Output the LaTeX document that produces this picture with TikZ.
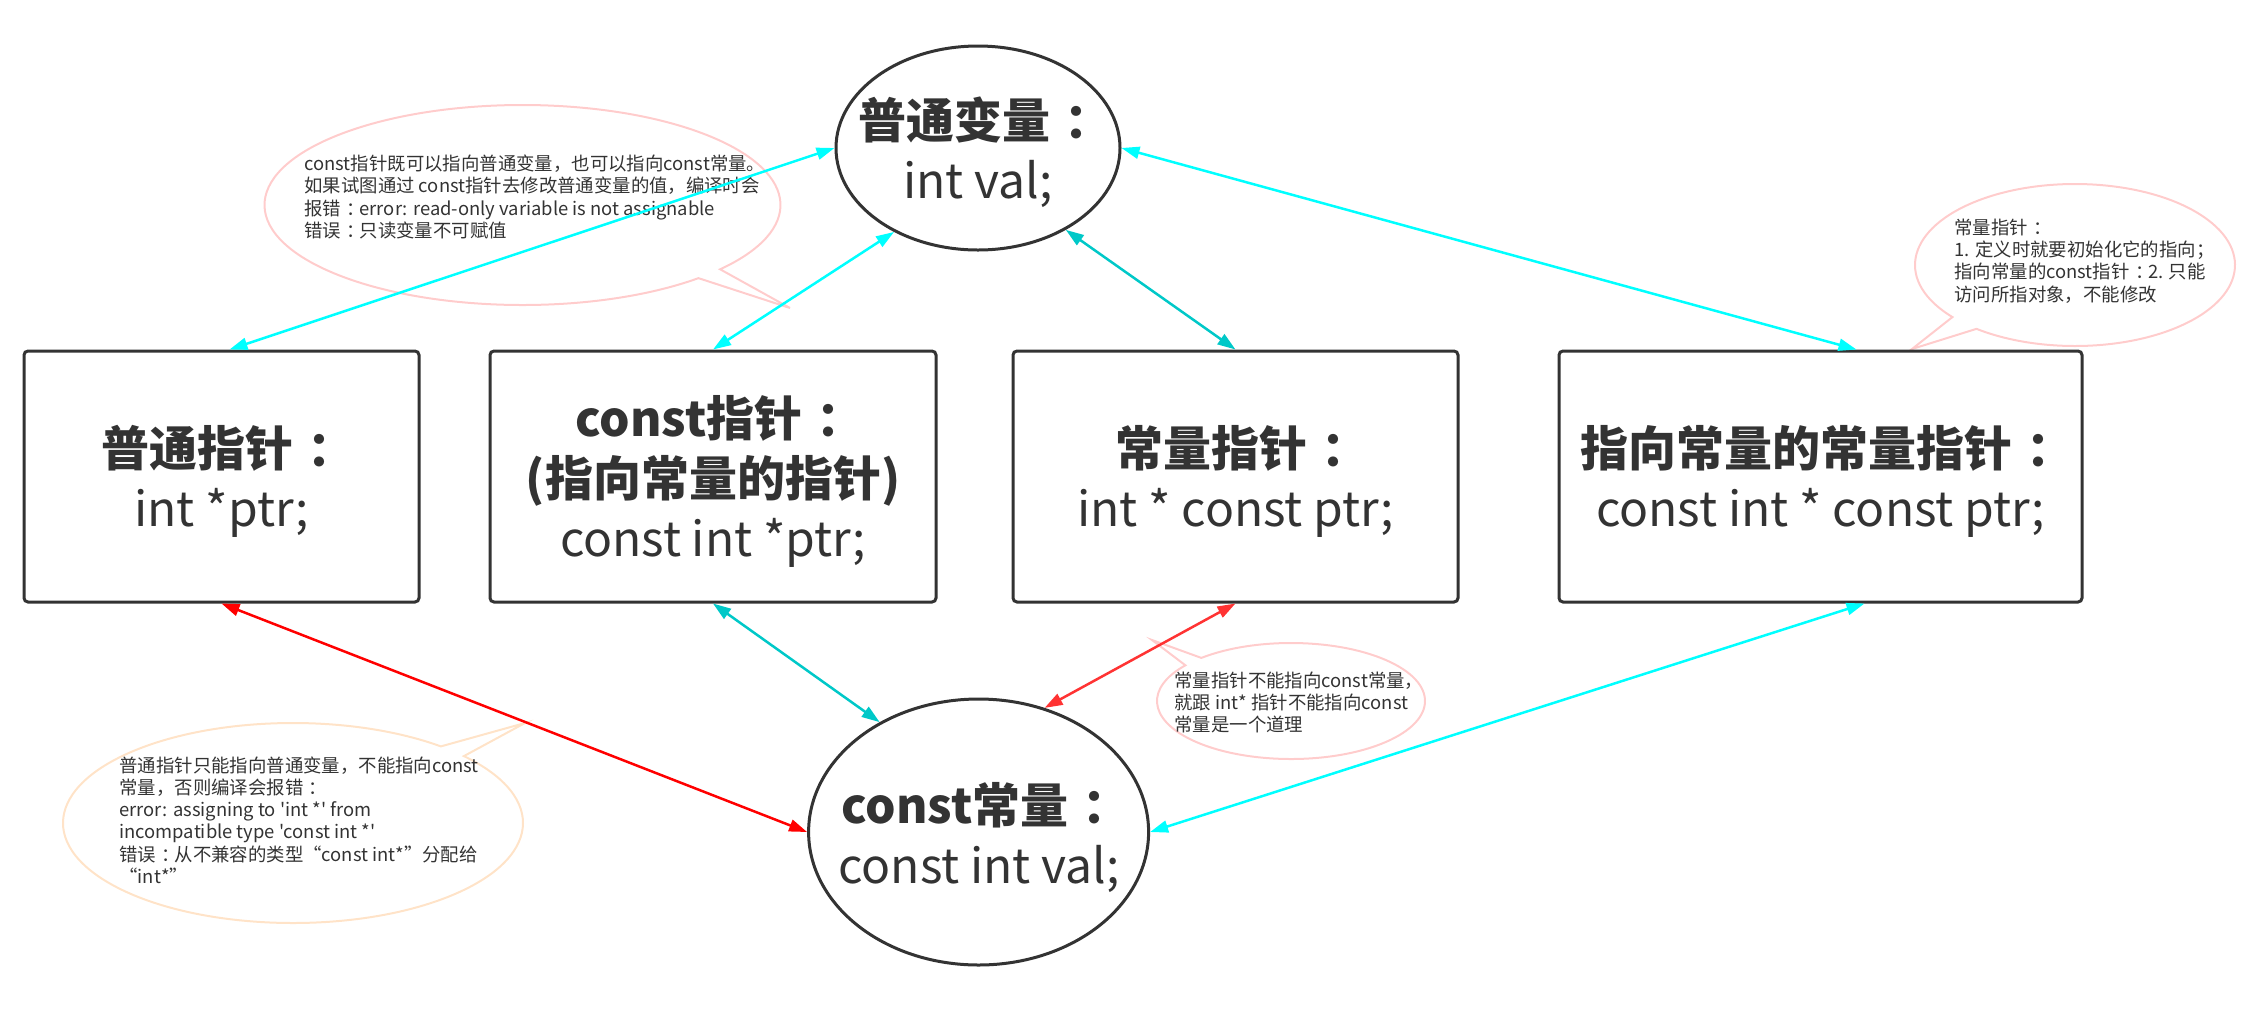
\documentclass[tikz,border=0pt]{standalone}
\usepackage{fontspec}
\newfontfamily\cjkfont{Noto Sans CJK SC}
\newcommand\zhcolon{\kern.3em：\kern-.3em}
\usetikzlibrary{shapes.geometric,arrows.meta}
\definecolor{txt}{HTML}{333333}
\definecolor{cyanA}{HTML}{00FFFF}
\definecolor{tealA}{HTML}{00C8C8}
\definecolor{redA}{HTML}{FF0000}
\definecolor{redB}{HTML}{FF3333}
\definecolor{pinkA}{HTML}{FFCCCC}
\definecolor{peachA}{HTML}{FFE3C8}
\begin{document}
\begin{tikzpicture}[x=0.5pt,y=-0.5pt,
  big/.style={font=\cjkfont\fontsize{24}{30}\selectfont, text=txt, align=center, inner sep=0pt},
  boxnode/.style={draw=txt, line width=1.5pt, rounded corners=2pt, minimum height=125.5pt, inner sep=0pt, fill=white},
  ellnode/.style={draw=txt, line width=1.5pt, ellipse, inner sep=0pt, fill=white},
  note/.style={font=\cjkfont\fontsize{9.2}{11.1}\selectfont, text=txt, align=left, anchor=west, inner sep=0pt},
  bubble/.style={line width=1pt, draw=pinkA},
  link/.style={line width=1.25pt, <->, >={Triangle[length=9pt,width=6pt]}}]
\useasboundingbox (0,0) rectangle (2250,1008);

% speech bubbles
\draw[bubble] (522.5,205) ++(47:258 and 100) arc[start angle=47, end angle=400, x radius=258, y radius=100] -- (790,308) -- cycle;
\draw[bubble] (2075,265) ++(140:160 and 81) arc[start angle=140, end angle=488, x radius=160, y radius=81] -- (1912,349) -- cycle;
\draw[bubble, draw=peachA] (293,823) ++(-42:230 and 100) arc[start angle=-42, end angle=310, x radius=230, y radius=100] -- (525,723) -- cycle;
\draw[bubble] (1291,701) ++(228:134 and 58) arc[start angle=228, end angle=578, x radius=134, y radius=58] -- (1152,640) -- cycle;

\node[note] (n1) at (304,197) {const指针既可以指向普通变量，也可以指向const常量。\\如果试图通过 const指针去修改普通变量的值，编译时会\\报错\zhcolon error: read-only variable is not assignable\\错误\zhcolon 只读变量不可赋值};
\node[note] (n2) at (1954,261) {常量指针\zhcolon\\1. 定义时就要初始化它的指向；\\指向常量的const指针\zhcolon 2. 只能\\访问所指对象，不能修改};
\node[note] (n3) at (119,820) {普通指针只能指向普通变量，不能指向const\\常量，否则编译会报错\zhcolon\\error: assigning to 'int *' from\\incompatible type 'const int *'\\错误\zhcolon 从不兼容的类型“const int*”分配给\\“int*”};
\node[note] (n4) at (1174,702.5) {常量指针不能指向const常量，\\就跟 int* 指针不能指向const\\常量是一个道理};

% main nodes
\node[ellnode, minimum width=142pt, minimum height=102pt] (top) at (978,148) {};
\node[big] (toptext) at (978,152) {{\bfseries 普通变量\zhcolon}\\int val;};
\node[ellnode, minimum width=170pt, minimum height=133pt] (bot) at (978.6,832) {};
\node[big] (bottext) at (979,838) {{\bfseries const常量\zhcolon}\\const int val;};
\node[boxnode, minimum width=197.5pt] (b1) at (221.5,476.5) {};
\node[big] (b1text) at (221.5,481) {{\bfseries 普通指针\zhcolon}\\int *ptr;};
\node[boxnode, minimum width=223pt] (b2) at (713,476.5) {};
\node[big] (b2text) at (713,481) {{\bfseries const指针\zhcolon}\\{\bfseries (指向常量的指针)}\\const int *ptr;};
\node[boxnode, minimum width=222.5pt] (b3) at (1235.5,476.5) {};
\node[big] (b3text) at (1235.5,481) {{\bfseries 常量指针\zhcolon}\\int * const ptr;};
\node[boxnode, minimum width=261.5pt] (b4) at (1820.5,476.5) {};
\node[big] (b4text) at (1820.5,481) {{\bfseries 指向常量的常量指针\zhcolon}\\const int * const ptr;};

% connectors
\draw[link, cyanA] (top.west) -- ([xshift=4pt]b1.north);
\draw[link, cyanA] (top.225) -- (b2.north);
\draw[link, tealA] (top.-43) -- (b3.north);
\draw[link, cyanA] (top.east) -- ([xshift=18pt]b4.north);
\draw[link, redA] (b1.south) -- (bot.west);
\draw[link, tealA] (b2.south) -- (bot.132);
\draw[link, redB] (b3.south) -- (bot.62);
\draw[link, cyanA] ([xshift=22pt]b4.south) -- (bot.east);
\end{tikzpicture}
\end{document}
